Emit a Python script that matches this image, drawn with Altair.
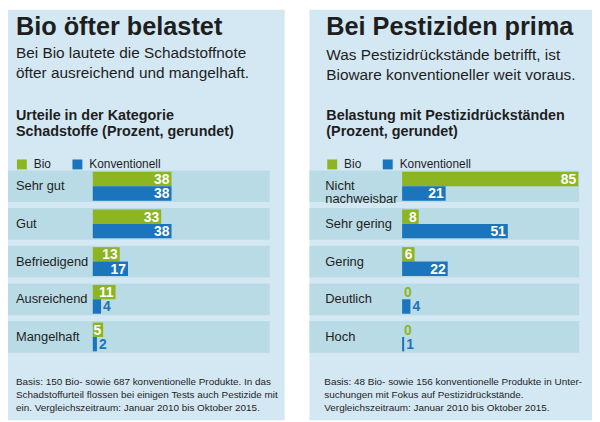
import altair as alt
import pandas as pd

# ---- data ----
groups = ["Bio", "Konventionell"]

left_cats = ["Sehr gut", "Gut", "Befriedigend", "Ausreichend", "Mangelhaft"]
left_bio = [38, 33, 13, 11, 5]
left_konv = [38, 38, 17, 4, 2]

right_cats = ["Nicht nachweisbar", "Sehr gering", "Gering", "Deutlich", "Hoch"]
right_bio = [85, 8, 6, 0, 0]
right_konv = [21, 51, 22, 4, 1]

left_title = "Bio öfter belastet"
left_sub = ["Bei Bio lautete die Schadstoffnote", "öfter ausreichend und mangelhaft."]
left_sec = ["Urteile in der Kategorie", "Schadstoffe (Prozent, gerundet)"]
left_foot = ["Basis: 150 Bio- sowie 687 konventionelle Produkte. In das",
             "Schadstoffurteil flossen bei einigen Tests auch Pestizide mit",
             "ein. Vergleichszeitraum: Januar 2010 bis Oktober 2015."]

right_title = "Bei Pestiziden prima"
right_sub = ["Was Pestizidrückstände betrifft, ist", "Bioware konventioneller weit voraus."]
right_sec = ["Belastung mit Pestizidrückständen", "(Prozent, gerundet)"]
right_foot = ["Basis: 48 Bio- sowie 156 konventionelle Produkte in Unter-",
              "suchungen mit Fokus auf Pestizidrückstände.",
              "Vergleichszeitraum: Januar 2010 bis Oktober 2015."]

# ---- style ----
GREEN = "#8cb521"
BLUE = "#1b75bc"
PANEL = "#d4e8f4"
BAND = "#b9dbe5"
INK = "#1e1e1e"
FONT = "Liberation Sans, Arial, sans-serif"

one = alt.Data(values=[{}])


def note(txt, x, y, size, weight="normal", font=FONT, lh=None):
    kw = dict(align="left", baseline="alphabetic", fontSize=size, fontWeight=weight,
              font=font, color=INK)
    if lh is not None:
        kw["lineHeight"] = lh
    return alt.Chart(one).mark_text(**kw).encode(
        x=alt.value(x), y=alt.value(y), text=alt.value(txt))


def panel(cats, bio, konv, x0, band_w, tx, cx, fx, sub_y, title, sub, sec, foot, width):
    rows = []
    for c, b, k in zip(cats, bio, konv):
        rows.append({"cat": c, "grp": "Bio", "v": b})
        rows.append({"cat": c, "grp": "Konventionell", "v": k})
    df = pd.DataFrame(rows)
    cat_df = pd.DataFrame({"cat": cats})

    ycat = alt.Y("cat:N", sort=cats,
                 scale=alt.Scale(domain=cats, range=[159, 349],
                                 paddingInner=6 / 38, paddingOuter=3 / 38),
                 axis=None)
    xv = alt.X("v:Q", scale=alt.Scale(domain=[0, 100], range=[x0, x0 + 209]), axis=None)
    yoff = alt.YOffset("grp:N", sort=groups,
                       scale=alt.Scale(domain=groups, paddingInner=0, paddingOuter=0.1))
    cscale = alt.Scale(domain=groups, range=[GREEN, BLUE])

    bands = alt.Chart(cat_df).mark_rect(color=BAND).encode(
        y=ycat, x=alt.value(0), x2=alt.value(band_w))

    bars = alt.Chart(df).mark_bar().encode(
        x=xv, y=ycat, yOffset=yoff,
        color=alt.Color("grp:N", scale=cscale,
                        legend=alt.Legend(orient="none", legendX=tx, legendY=150,
                                          direction="horizontal", title=None,
                                          symbolType="square", symbolSize=100,
                                          symbolStrokeWidth=0, labelFontSize=12,
                                          labelFont=FONT, labelColor=INK,
                                          labelOffset=6, columnPadding=20, padding=0)))

    inside = alt.Chart(df).transform_filter("datum.v >= 5").mark_text(
        align="right", baseline="middle", dx=-2, dy=1, color="white",
        fontWeight="bold", fontSize=14, font=FONT).encode(
        x=xv, y=ycat, yOffset=yoff, text="v:Q")

    outside = alt.Chart(df).transform_filter("datum.v < 5").mark_text(
        align="left", baseline="middle", dx=2, dy=1,
        fontWeight="bold", fontSize=14, font=FONT).encode(
        x=xv, y=ycat, yOffset=yoff, text="v:Q",
        color=alt.Color("grp:N", scale=cscale, legend=None))

    labels = alt.Chart(cat_df).transform_calculate(
        lbl="replace(datum.cat, 'Nicht ', 'Nicht\\n')").mark_text(
        align="left", baseline="middle", fontSize=13, font=FONT, color=INK,
        lineBreak="\n", lineHeight=13).encode(
        y=ycat, x=alt.value(cx), text="lbl:N")

    layers = [bands, bars, inside, outside, labels,
              note(title, tx, 25, 25.5, "bold"),
              note(sub, tx, sub_y, 15.5, lh=20),
              note(sec, tx, 111, 14.5, "bold", lh=16.5),
              note(foot, fx, 378, 10, lh=13.5)]
    return alt.layer(*layers).properties(width=width, height=414)


left = panel(left_cats, left_bio, left_konv, 85.5, 264, 8, 8, 8, 49,
             left_title, left_sub, left_sec, left_foot, 279)
right = panel(right_cats, right_bio, right_konv, 93.5, 272, 17, 16, 15, 51,
              right_title, right_sub, right_sec, right_foot, 285)

chart = alt.hconcat(left, right, spacing=25).resolve_scale(
    color="independent").resolve_legend(color="independent").properties(
    padding=0, background="white").configure_view(fill=PANEL, stroke=None)

chart.save("out.html", embed_options={"renderer": "svg", "actions": False})
